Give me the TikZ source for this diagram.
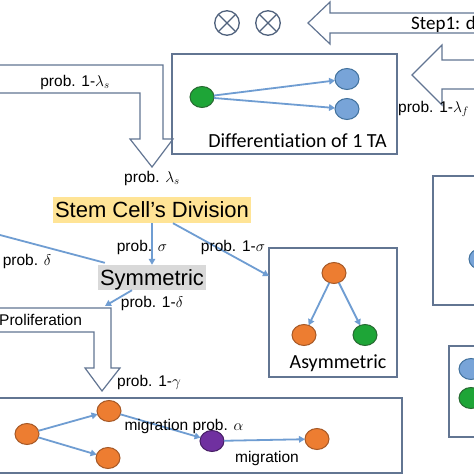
\RequirePackage{fix-cm}
\documentclass[tikz,border=0pt]{standalone}
\usepackage{fontspec}
\setmainfont{Liberation Sans}
\newfontfamily\carlfont{Carlito}[Ligatures={NoCommon}]
\usetikzlibrary{arrows.meta,shapes.geometric}
\definecolor{boxc}{RGB}{98,117,146}
\definecolor{arrc}{RGB}{111,157,210}
\definecolor{orf}{RGB}{237,125,49}
\definecolor{ord}{RGB}{165,88,38}
\definecolor{grf}{RGB}{30,165,55}
\definecolor{grd}{RGB}{40,105,50}
\definecolor{blf}{RGB}{120,164,216}
\definecolor{bld}{RGB}{65,113,156}
\definecolor{puf}{RGB}{112,48,160}
\definecolor{pud}{RGB}{70,30,100}
\definecolor{hly}{RGB}{255,228,150}
\definecolor{hlg}{RGB}{217,217,217}
\definecolor{xc}{RGB}{80,98,125}
\begin{document}
\begin{tikzpicture}[x=1pt,y=-1pt,
  cell/.style={ellipse, draw, line width=1pt, minimum width=24pt, minimum height=21pt, inner sep=0pt, outer sep=0pt},
  ocell/.style={cell, fill=orf, draw=ord},
  gcell/.style={cell, fill=grf, draw=grd},
  bcell/.style={cell, fill=blf, draw=bld},
  pcell/.style={cell, fill=puf, draw=pud},
  conn/.style={draw=arrc, line width=1.8pt, -{Triangle[length=6pt,width=6.5pt]}},
  boxn/.style={rectangle, draw=boxc, line width=1.2pt, inner sep=0pt, outer sep=0pt},
  bigarrow/.style={draw=boxc, line width=1.2pt, fill=white, line join=miter},
  lab/.style={font=\fontsize{15.5}{18}\selectfont, anchor=base, inner sep=0pt},
  clab/.style={font=\carlfont\fontsize{20}{24}\selectfont, anchor=base, inner sep=0pt},
  hl/.style={font=\fontsize{22}{26}\selectfont, anchor=base, inner xsep=2pt, inner ysep=0pt, text height=20pt},
  xcirc/.style={circle, draw=xc, line width=1.3pt, minimum size=24.5pt, inner sep=0pt, outer sep=0pt},
  xline/.style={draw=xc, line width=1.3pt}
]
\useasboundingbox (0,0) rectangle (474,474);
\clip (0,0) rectangle (474,474);
\fill[white] (0,0) rectangle (474,474);

% cross symbols
\node[xcirc] (x1) at (227,23) {};
\node[xcirc] (x2) at (268,23) {};
\draw[xline] (x1.north east) -- (x1.south west) (x1.north west) -- (x1.south east);
\draw[xline] (x2.north east) -- (x2.south west) (x2.north west) -- (x2.south east);

% big hollow arrows
\draw[bigarrow] (490,13) -- (330,13) -- (330,2) -- (308,23) -- (330,44) -- (330,33) -- (490,33);
\node[font=\carlfont\fontsize{19}{22}\selectfont, anchor=base west, inner sep=0pt] (step) at (411,29) {Step1: de};
\draw[bigarrow] (490,60) -- (442,60) -- (442,45) -- (412,75) -- (442,105) -- (442,89) -- (490,89);
\node[lab, anchor=base west] (lf) at (398,112) {prob. 1-$\lambda_f$};

\draw[bigarrow] (-10,65) -- (163,65) -- (163,139) -- (173,139) -- (152,167) -- (130,139) -- (140,139) -- (140,93) -- (-10,93);
\node[lab] (l1s) at (75,86) {prob. 1-$\lambda_s$};
\node[lab] (ls) at (152,182) {prob. $\lambda_s$};

\draw[bigarrow] (-10,308) -- (111,308) -- (111,368) -- (120,368) -- (102,391) -- (85,368) -- (94,368) -- (94,332) -- (-10,332);
\node[lab, anchor=base west] (prolif) at (-1,325) {Proliferation};
\node[lab] (l1g) at (149,386) {prob. 1-$\gamma$};
\coordinate (prolc) at (105,306);

% boxes
\node[boxn, minimum width=225pt, minimum height=100pt] (diff) at (284.5,104) {};
\node[boxn, minimum width=128pt, minimum height=129pt] (asym) at (333,312.5) {};
\node[boxn, minimum width=407pt, minimum height=75pt] (prolbox) at (198.5,435.5) {};
\node[boxn, minimum width=51pt, minimum height=129pt] (rbox1) at (458.5,240.5) {};
\node[boxn, minimum width=35pt, minimum height=91pt] (rbox2) at (466.5,391.5) {};

% differentiation box content
\node[gcell] (g1) at (202,97) {};
\node[bcell] (b1) at (347,79) {};
\node[bcell] (b2) at (347,109) {};
\draw[conn] (g1) -- (b1);
\draw[conn] (g1) -- (b2);
\node[clab, anchor=base east] (difft) at (387,147) {Differentiation of 1 TA};

% highlighted titles
\node[hl, fill=hly, text depth=6pt] (scd) at (152,217) {Stem Cell’s Division};
\node[hl, fill=hlg, text depth=5pt] (sym) at (152,285) {Symmetric};
\draw[conn] (scd.south) -- (sym.north);
\draw[conn] ([xshift=21pt]scd.south) -- ([yshift=36.5pt]asym.west);
\coordinate (offl) at (-20,229.7);
\draw[conn] ([xshift=7pt,yshift=2pt]sym.north west) -- (offl);
\draw[conn] ([xshift=-20pt]sym.south) -- (prolc);
\node[lab] (lsig) at (142,251) {prob. $\sigma$};
\node[lab] (l1sig) at (233,251) {prob. 1-$\sigma$};
\node[lab] (ldel) at (27,265) {prob. $\delta$};
\node[lab] (l1del) at (152,307) {prob. 1-$\delta$};

% asymmetric box content
\node[ocell] (ao) at (334,273) {};
\node[ocell] (ao1) at (304,335) {};
\node[gcell] (ag) at (365,335) {};
\draw[conn] (ao) -- (ao1);
\draw[conn] (ao) -- (ag);
\node[clab] (asymt) at (338,368) {Asymmetric};

% proliferation box content
\node[ocell] (p1) at (27,434) {};
\node[ocell] (p2) at (109,411) {};
\node[ocell] (p3) at (108,458) {};
\node[pcell] (pu) at (212,441) {};
\node[ocell] (p4) at (317,439) {};
\draw[conn] (p1) -- (p2);
\draw[conn] (p1) -- (p3);
\draw[conn] (p2) -- (pu);
\draw[conn] (pu) -- (p4);
\node[lab] (lmig) at (184,430) {migration prob. $\alpha$};
\node[lab] (mig) at (267,462) {migration};

% right boxes content
\node[bcell] (rb1) at (481,259) {};
\node[bcell] (rb2) at (471,369) {};
\node[gcell] (rg2) at (471,398) {};
\end{tikzpicture}
\end{document}
